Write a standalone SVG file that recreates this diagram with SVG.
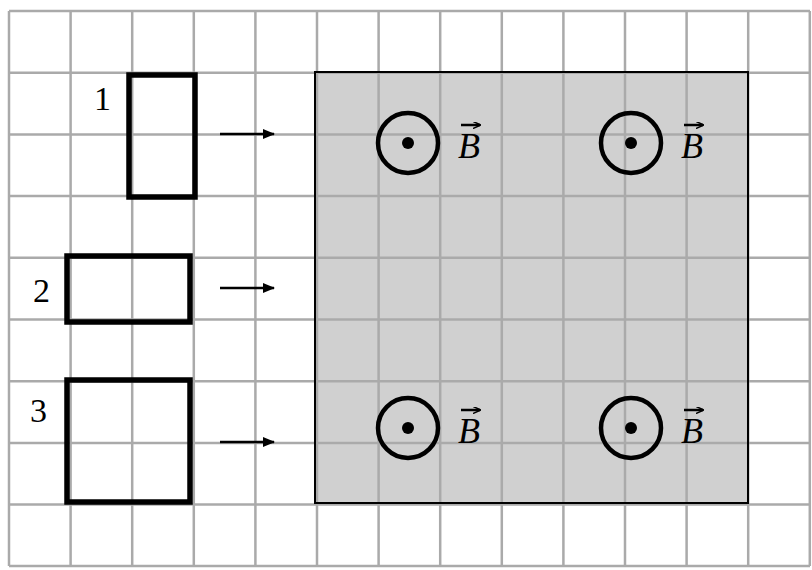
<svg xmlns="http://www.w3.org/2000/svg" width="812" height="570" viewBox="0 0 812 570">
<style>
.g{stroke:#aaa;stroke-width:2.5}
.f{fill:none;stroke:#000;stroke-width:5.5}
.c{fill:none;stroke:#000;stroke-width:4.5}
.t{font-family:"Liberation Serif",serif;font-size:34px}
.b{font-family:"Liberation Serif",serif;font-size:36px;font-style:italic}
.a{stroke:#000;stroke-width:2.5}
</style>
<defs>
<marker id="m" markerWidth="12" markerHeight="10" refX="11" refY="5" orient="auto" markerUnits="userSpaceOnUse"><path d="M0,0L12,5L0,10z"/></marker>
<marker id="m2" markerWidth="8" markerHeight="7" refX="7" refY="3.5" orient="auto" markerUnits="userSpaceOnUse"><path d="M0,0L8,3.5L0,7" fill="none" stroke="#000" stroke-width="1.5"/></marker>
<g id="bsym"><circle r="30" class="c"/><circle r="6"/><text x="50" y="15" class="b">B</text><path d="M53,-18H72" class="a" stroke-width="1.8" marker-end="url(#m2)"/></g>
</defs>
<rect width="812" height="570" fill="#fff"/>
<rect id="field" x="315" y="72" width="433" height="431" fill="#d0d0d0"/>
<g id="grid">
<path class="g" d="M9,11V566M70.6,11V566M132.2,11V566M193.8,11V566M255.4,11V566M317,11V566M378.6,11V566M440.2,11V566M501.8,11V566M563.4,11V566M625,11V566M686.6,11V566M748.2,11V566M809.8,11V566"/>
<path class="g" d="M9,11H810M9,72.7H810M9,134.4H810M9,196.1H810M9,257.8H810M9,319.5H810M9,381.2H810M9,442.9H810M9,504.6H810M9,566H810"/>
</g>
<rect x="315" y="72" width="433" height="431" fill="none" stroke="#000" stroke-width="2"/>
<g id="frame1"><rect x="129" y="75" width="66" height="122" class="f"/><text x="94" y="110" class="t">1</text></g>
<g id="frame2"><rect x="67" y="256" width="123" height="66" class="f"/><text x="33" y="302" class="t">2</text></g>
<g id="frame3"><rect x="67" y="380" width="123" height="122" class="f"/><text x="30" y="422" class="t">3</text></g>
<g id="connectors">
<path d="M220,134H274" class="a" marker-end="url(#m)"/>
<path d="M220,288H274" class="a" marker-end="url(#m)"/>
<path d="M220,442H274" class="a" marker-end="url(#m)"/>
</g>
<g id="B1"><use href="#bsym" x="408" y="143"/></g>
<g id="B2"><use href="#bsym" x="631" y="143"/></g>
<g id="B3"><use href="#bsym" x="408" y="428"/></g>
<g id="B4"><use href="#bsym" x="631" y="428"/></g>
</svg>
